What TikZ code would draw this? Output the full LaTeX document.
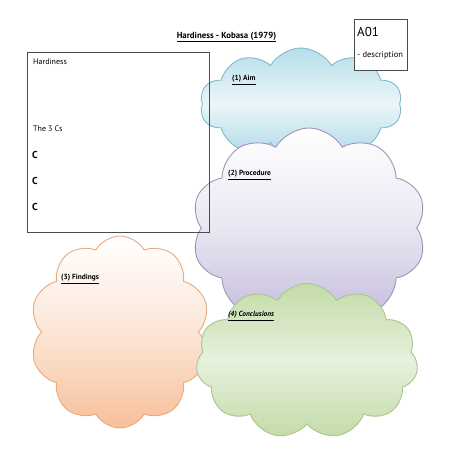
\documentclass[tikz,border=0pt]{standalone}
\usepackage{fontspec}
\setmainfont{PT Sans}
\usetikzlibrary{shapes.symbols}
\definecolor{aimB}{HTML}{7DBBCB}
\definecolor{aimF}{HTML}{ABD8E7}
\definecolor{proB}{HTML}{9E92BD}
\definecolor{proF}{HTML}{C2B9DA}
\definecolor{finB}{HTML}{E9A97C}
\definecolor{finF}{HTML}{F7C09A}
\definecolor{conB}{HTML}{A9C68E}
\definecolor{conF}{HTML}{C3DBA8}
\tikzset{
  puff/.style={cloud, cloud puffs=#1, cloud puff arc=120, line width=0.9pt, inner sep=0pt},
  lbl/.style={font=\bfseries\fontsize{7.4}{8}\selectfont, anchor=west, inner sep=0pt},
  boxtxt/.style={font=\fontsize{8}{9}\selectfont, anchor=west, inner sep=0pt},
  cee/.style={font=\bfseries\fontsize{10}{11}\selectfont, anchor=west, inner sep=0pt}
}
\begin{document}
\begin{tikzpicture}[x=1pt,y=-1pt]
\useasboundingbox[fill=white] (0,0) rectangle (453,453);
% clouds
\node[puff=10, draw=aimB, shade, top color=aimF!85, bottom color=aimF, middle color=aimF!25,
  minimum width=202pt, minimum height=112pt, aspect=1.8] (aim) at (301,104) {};
\node[puff=10, draw=finB, shade, top color=white, bottom color=finF, middle color=finF!40,
  minimum width=180pt, minimum height=192pt, aspect=0.94] (fin) at (120,332) {};
\node[puff=10, draw=proB, shade, top color=white, bottom color=proF, middle color=proF!35,
  minimum width=235pt, minimum height=200pt, aspect=1.18] (pro) at (309,228) {};
\node[puff=11, draw=conB, shade, top color=conF, bottom color=conF, middle color=conF!40,
  minimum width=222pt, minimum height=155pt, aspect=1.43] (con) at (307,361) {};
% left box
\node[draw=black!70, line width=0.6pt, minimum width=182pt, minimum height=180pt, inner sep=0pt] (lbox) at (118,142) {};
% A01 box
\node[draw=black!70, fill=white, line width=0.6pt, minimum width=53pt, minimum height=51pt, inner sep=0pt] (a01) at (380.5,44.5) {};
% texts
\node[font=\bfseries\fontsize{8.8}{10}\selectfont, inner sep=0pt] (title) at (226.5,37) {\underline{Hardiness - Kobasa (1979)}};
\node[font=\fontsize{13}{15}\selectfont, anchor=west, inner sep=0pt] (a01t) at (357,32) {A01};
\node[font=\fontsize{8.5}{10}\selectfont, anchor=west, inner sep=0pt] (desc) at (357,55) {- description};
\node[boxtxt] (hard) at (33,62) {Hardiness};
\node[boxtxt] (three) at (33,129) {The 3 Cs};
\node[cee] (c1) at (32,155) {C};
\node[cee] (c2) at (32,181) {C};
\node[cee] (c3) at (32,207) {C};
\node[lbl] (l1) at (232,80) {\underline{(1) Aim}};
\node[lbl] (l2) at (228,175) {\underline{(2) Procedure}};
\node[lbl] (l3) at (61,279) {\underline{(3) Findings}};
\node[lbl] (l4) at (228,316) {\underline{\itshape (4) Conclusions}};
\end{tikzpicture}
\end{document}
